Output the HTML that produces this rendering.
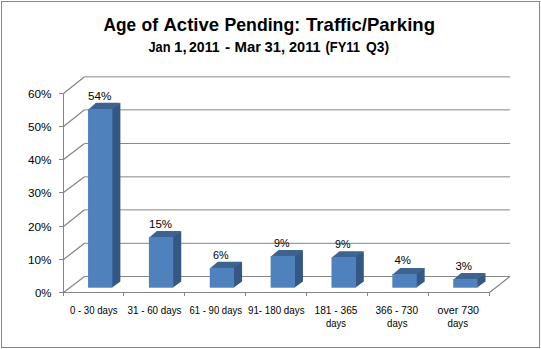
<!DOCTYPE html>
<html><head><meta charset="utf-8"><style>
html,body{margin:0;padding:0;background:#fff;}
svg{display:block;}
text{font-family:"Liberation Sans", sans-serif;fill:#000;}
</style></head><body>
<svg width="541" height="349" viewBox="0 0 541 349">
<rect x="1.5" y="1.5" width="538" height="346" fill="#fff" stroke="#868686" stroke-width="1"/>
<path d="M84.5,276.50H510.0 M59,292.50H63.5 M84.5,243.30H510.0 M59,259.50H63.5 M84.5,209.86H510.0 M59,226.50H63.5 M84.5,176.86H510.0 M59,192.50H63.5 M84.5,143.47H510.0 M59,159.50H63.5 M84.5,109.86H510.0 M59,126.50H63.5 M84.5,76.86H510.0 M59,93.50H63.5 M63.5,93.50V296.0 M63.5,292.5H489.5 M123.5,292.5V296.0 M184.5,292.5V296.0 M245.5,292.5V296.0 M306.5,292.5V296.0 M367.5,292.5V296.0 M428.5,292.5V296.0 M489.5,292.5V296.0" fill="none" stroke="#868686" stroke-width="1"/>
<path d="M63.5,292.50L84.5,276.50 M63.5,259.50L84.5,243.30 M63.5,226.50L84.5,209.86 M63.5,192.50L84.5,176.86 M63.5,159.50L84.5,143.47 M63.5,126.50L84.5,109.86 M63.5,93.50L84.5,76.86 M489.5,292.5L510.0,276.50" fill="none" stroke="#868686" stroke-width="1.25"/>
<polygon points="111.80,108.50 120.38,102.82 120.38,281.62 111.80,287.70" fill="#345783"/>
<polygon points="88.06,109.70 96.04,102.82 120.38,102.82 111.80,109.70" fill="#3D6390"/>
<rect x="88.06" y="109.10" width="24.34" height="178.60" fill="#4F81BD"/>
<polygon points="172.66,236.44 181.24,230.90 181.24,281.62 172.66,287.70" fill="#345783"/>
<polygon points="148.91,237.64 156.89,230.90 181.24,230.90 172.66,237.64" fill="#3D6390"/>
<rect x="148.91" y="237.04" width="24.34" height="50.66" fill="#4F81BD"/>
<polygon points="233.51,267.28 242.09,261.78 242.09,281.62 233.51,287.70" fill="#345783"/>
<polygon points="209.77,268.48 217.75,261.78 242.09,261.78 233.51,268.48" fill="#3D6390"/>
<rect x="209.77" y="267.88" width="24.34" height="19.82" fill="#4F81BD"/>
<polygon points="294.37,255.46 302.95,249.95 302.95,281.62 294.37,287.70" fill="#345783"/>
<polygon points="270.63,256.66 278.61,249.95 302.95,249.95 294.37,256.66" fill="#3D6390"/>
<rect x="270.63" y="256.06" width="24.34" height="31.64" fill="#4F81BD"/>
<polygon points="355.23,256.66 363.81,251.14 363.81,281.62 355.23,287.70" fill="#345783"/>
<polygon points="331.49,257.86 339.47,251.14 363.81,251.14 355.23,257.86" fill="#3D6390"/>
<rect x="331.49" y="257.26" width="24.34" height="30.44" fill="#4F81BD"/>
<polygon points="416.09,273.49 424.67,267.99 424.67,281.62 416.09,287.70" fill="#345783"/>
<polygon points="392.34,274.69 400.32,267.99 424.67,267.99 416.09,274.69" fill="#3D6390"/>
<rect x="392.34" y="274.09" width="24.34" height="13.61" fill="#4F81BD"/>
<polygon points="476.94,278.60 485.52,273.11 485.52,281.62 476.94,287.70" fill="#345783"/>
<polygon points="453.20,279.80 461.18,273.11 485.52,273.11 476.94,279.80" fill="#3D6390"/>
<rect x="453.20" y="279.20" width="24.34" height="8.50" fill="#4F81BD"/>
<text x="103.5" y="31" font-size="18.5" font-weight="bold" text-anchor="start" textLength="32.53" lengthAdjust="spacingAndGlyphs">Age</text>
<text x="141.5" y="31" font-size="18.5" font-weight="bold" text-anchor="start" textLength="16.53" lengthAdjust="spacingAndGlyphs">of</text>
<text x="163.5" y="31" font-size="18.5" font-weight="bold" text-anchor="start" textLength="55.52" lengthAdjust="spacingAndGlyphs">Active</text>
<text x="224.5" y="31" font-size="18.5" font-weight="bold" text-anchor="start" textLength="75.56" lengthAdjust="spacingAndGlyphs">Pending:</text>
<text x="306.0" y="31" font-size="18.5" font-weight="bold" text-anchor="start" textLength="129.02" lengthAdjust="spacingAndGlyphs">Traffic/Parking</text>
<text x="148.5" y="52" font-size="14" font-weight="bold" text-anchor="start" textLength="22.03" lengthAdjust="spacingAndGlyphs">Jan</text>
<text x="174.0" y="52" font-size="14" font-weight="bold" text-anchor="start" textLength="12.66" lengthAdjust="spacingAndGlyphs">1,</text>
<text x="189.0" y="52" font-size="14" font-weight="bold" text-anchor="start" textLength="30.58" lengthAdjust="spacingAndGlyphs">2011</text>
<text x="225.0" y="52" font-size="14" font-weight="bold" text-anchor="start" textLength="5.15" lengthAdjust="spacingAndGlyphs">-</text>
<text x="234.5" y="52" font-size="14" font-weight="bold" text-anchor="start" textLength="26.55" lengthAdjust="spacingAndGlyphs">Mar</text>
<text x="264.5" y="52" font-size="14" font-weight="bold" text-anchor="start" textLength="20.61" lengthAdjust="spacingAndGlyphs">31,</text>
<text x="289.0" y="52" font-size="14" font-weight="bold" text-anchor="start" textLength="31.55" lengthAdjust="spacingAndGlyphs">2011</text>
<text x="325.5" y="52" font-size="14" font-weight="bold" text-anchor="start" textLength="34.54" lengthAdjust="spacingAndGlyphs">(FY11</text>
<text x="366.0" y="52" font-size="14" font-weight="bold" text-anchor="start" textLength="23.03" lengthAdjust="spacingAndGlyphs">Q3)</text>
<text x="51.5" y="296.5" font-size="11" text-anchor="end" textLength="16.51" lengthAdjust="spacingAndGlyphs">0%</text>
<text x="51.5" y="263.5" font-size="11" text-anchor="end" textLength="23.54" lengthAdjust="spacingAndGlyphs">10%</text>
<text x="51.5" y="230.5" font-size="11" text-anchor="end" textLength="23.54" lengthAdjust="spacingAndGlyphs">20%</text>
<text x="51.5" y="196.5" font-size="11" text-anchor="end" textLength="23.54" lengthAdjust="spacingAndGlyphs">30%</text>
<text x="51.5" y="163.5" font-size="11" text-anchor="end" textLength="23.54" lengthAdjust="spacingAndGlyphs">40%</text>
<text x="51.5" y="130.5" font-size="11" text-anchor="end" textLength="23.54" lengthAdjust="spacingAndGlyphs">50%</text>
<text x="51.5" y="97.5" font-size="11" text-anchor="end" textLength="23.54" lengthAdjust="spacingAndGlyphs">60%</text>
<text x="88.0" y="99.8" font-size="11" text-anchor="start" textLength="23.54" lengthAdjust="spacingAndGlyphs">54%</text>
<text x="149.0" y="227.9" font-size="11" text-anchor="start" textLength="23.0" lengthAdjust="spacingAndGlyphs">15%</text>
<text x="213.0" y="258.9" font-size="11" text-anchor="start" textLength="15.58" lengthAdjust="spacingAndGlyphs">6%</text>
<text x="274.0" y="247" font-size="11" text-anchor="start" textLength="15.53" lengthAdjust="spacingAndGlyphs">9%</text>
<text x="335.0" y="247.8" font-size="11" text-anchor="start" textLength="15.53" lengthAdjust="spacingAndGlyphs">9%</text>
<text x="394.5" y="263.8" font-size="11" text-anchor="start" textLength="16.56" lengthAdjust="spacingAndGlyphs">4%</text>
<text x="455.5" y="269.7" font-size="11" text-anchor="start" textLength="16.57" lengthAdjust="spacingAndGlyphs">3%</text>
<text x="70.0" y="314" font-size="10.2" text-anchor="start" textLength="47.5" lengthAdjust="spacingAndGlyphs">0 - 30 days</text>
<text x="127.5" y="314" font-size="10.2" text-anchor="start" textLength="54.03" lengthAdjust="spacingAndGlyphs">31 - 60 days</text>
<text x="189.5" y="314" font-size="10.2" text-anchor="start" textLength="52.51" lengthAdjust="spacingAndGlyphs">61 - 90 days</text>
<text x="248.0" y="314" font-size="10.2" text-anchor="start" textLength="56.53" lengthAdjust="spacingAndGlyphs">91- 180 days</text>
<text x="314.5" y="314" font-size="10.2" text-anchor="start" textLength="43.04" lengthAdjust="spacingAndGlyphs">181 - 365</text>
<text x="326.0" y="326.7" font-size="10.2" text-anchor="start" textLength="20.03" lengthAdjust="spacingAndGlyphs">days</text>
<text x="375.5" y="314" font-size="10.2" text-anchor="start" textLength="42.53" lengthAdjust="spacingAndGlyphs">366 - 730</text>
<text x="387.0" y="326.7" font-size="10.2" text-anchor="start" textLength="20.53" lengthAdjust="spacingAndGlyphs">days</text>
<text x="437.5" y="314" font-size="10.2" text-anchor="start" textLength="41.57" lengthAdjust="spacingAndGlyphs">over 730</text>
<text x="447.5" y="326.7" font-size="10.2" text-anchor="start" textLength="20.53" lengthAdjust="spacingAndGlyphs">days</text>
</svg>
</body></html>
